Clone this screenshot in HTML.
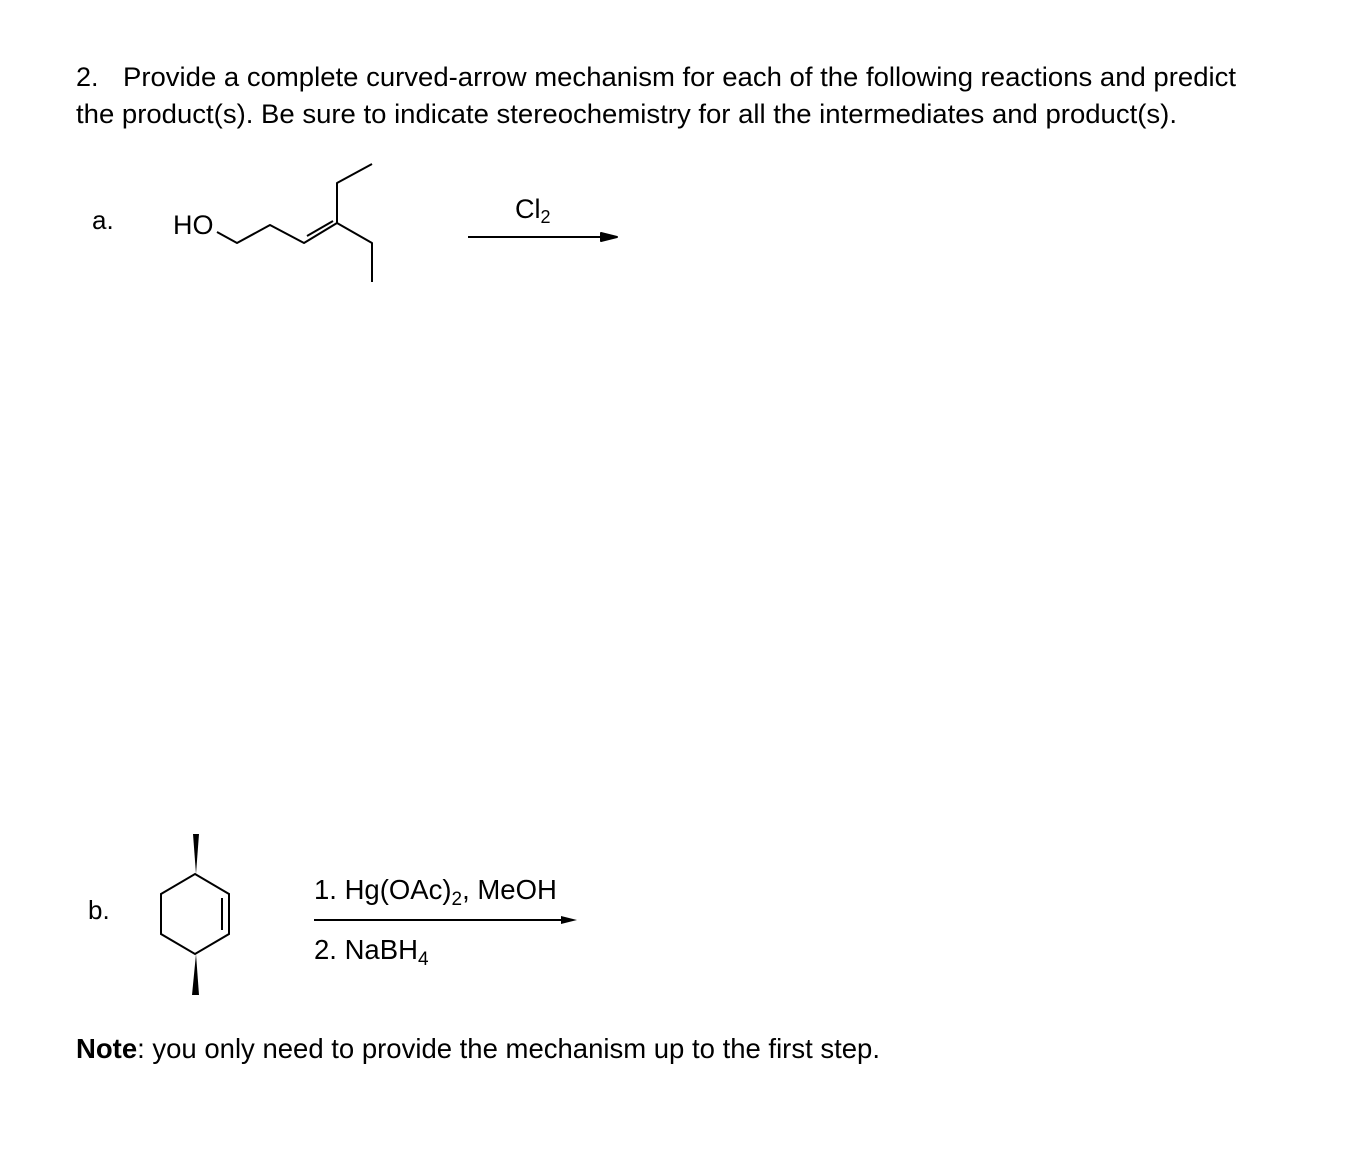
<!DOCTYPE html>
<html><head><style>body{margin:0;background:#fff}svg{display:block}</style></head>
<body>
<svg width="1345" height="1155" xmlns="http://www.w3.org/2000/svg" font-family="Liberation Sans, Arial, sans-serif" fill="#000">
<text x="76" y="86" font-size="27">2.</text>
<text x="123" y="86" font-size="27" textLength="1113" lengthAdjust="spacingAndGlyphs">Provide a complete curved-arrow mechanism for each of the following reactions and predict</text>
<text x="76" y="123" font-size="27" textLength="1101" lengthAdjust="spacingAndGlyphs">the product(s). Be sure to indicate stereochemistry for all the intermediates and product(s).</text>
<text x="92" y="229" font-size="26">a.</text>
<text x="173" y="234" font-size="27">HO</text>
<g stroke="#000" stroke-width="2" fill="none" stroke-linejoin="round">
<polyline points="217,232 237,243 270,225 304,243 337,223 337,183 372,164"/>
<polyline points="337,223 372,243 372,282"/>
<line x1="307" y1="236" x2="333" y2="221"/>
<line x1="468" y1="237" x2="604" y2="237"/>
<polygon points="617,237 601,233 601,241" fill="#000"/>
</g>
<text x="515" y="218" font-size="27">Cl<tspan font-size="18" dy="5">2</tspan></text>

<text x="88" y="919" font-size="26">b.</text>
<g stroke="#000" stroke-width="2" fill="none">
<polygon points="195,874 229,894 229,934 195,954 161,934 161,894"/>
<line x1="222" y1="898" x2="222" y2="930"/>
<line x1="314" y1="920" x2="564" y2="920"/>
</g>
<polygon points="577,920 561,916 561,924"/>
<polygon points="193,834 199,834 196,874"/>
<polygon points="196,954 199,995 192,995"/>
<text x="314" y="899" font-size="27.5">1. Hg(OAc)<tspan font-size="19" dy="6">2</tspan><tspan dy="-6">, MeOH</tspan></text>
<text x="314" y="959" font-size="27.5">2. NaBH<tspan font-size="19" dy="6">4</tspan></text>
<text x="76" y="1058" font-size="27.5" textLength="804" lengthAdjust="spacingAndGlyphs"><tspan font-weight="bold">Note</tspan>: you only need to provide the mechanism up to the first step.</text>
</svg>
</body></html>
